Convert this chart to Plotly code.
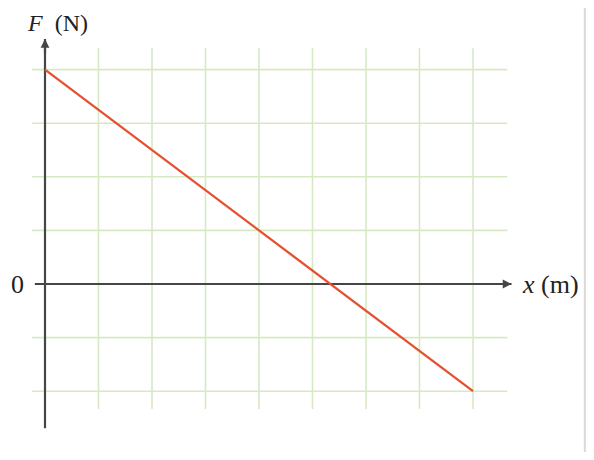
import plotly.graph_objects as go

# Grid positions (data units)
GRID_X = [1, 2, 3, 4, 5, 6, 7, 8]
GRID_Y = [4, 3, 2, 1, -1, -2]

# Force vs position line: endpoints
LINE_X = [0, 8]
LINE_F = [4, -2]

# Extents of the drawn grid / axes
GRID_X_SPAN = [-0.24, 8.64]
GRID_Y_SPAN = [-2.33, 4.40]
XAXIS_SPAN = [-0.19, 8.72]
YAXIS_SPAN = [-2.69, 4.57]

GRID_COLOR = "#d6e9c3"
AXIS_COLOR = "#454545"
LINE_COLOR = "#e5502e"
SERIF = "Liberation Serif, Times New Roman, serif"


def seg_xy(vals, span, vertical):
    xs, ys = [], []
    for v in vals:
        if vertical:
            xs += [v, v, None]
            ys += [span[0], span[1], None]
        else:
            xs += [span[0], span[1], None]
            ys += [v, v, None]
    return xs, ys


fig = go.Figure()

# grid
gx, gy = seg_xy(GRID_X, GRID_Y_SPAN, vertical=True)
fig.add_trace(go.Scatter(x=gx, y=gy, mode="lines",
                         line=dict(color=GRID_COLOR, width=1.6), hoverinfo="skip"))
hx, hy = seg_xy(GRID_Y, GRID_X_SPAN, vertical=False)
fig.add_trace(go.Scatter(x=hx, y=hy, mode="lines",
                         line=dict(color=GRID_COLOR, width=1.6), hoverinfo="skip"))

# axes
fig.add_trace(go.Scatter(x=XAXIS_SPAN, y=[0, 0], mode="lines",
                         line=dict(color=AXIS_COLOR, width=2.2), hoverinfo="skip"))
fig.add_trace(go.Scatter(x=[0, 0], y=YAXIS_SPAN, mode="lines",
                         line=dict(color=AXIS_COLOR, width=2.2), hoverinfo="skip"))

# force line
fig.add_trace(go.Scatter(x=LINE_X, y=LINE_F, mode="lines",
                         line=dict(color=LINE_COLOR, width=2.3)))

# arrowheads
fig.add_annotation(x=XAXIS_SPAN[1], y=0, ax=XAXIS_SPAN[1] - 0.3, ay=0,
                   xref="x", yref="y", axref="x", ayref="y", text="",
                   showarrow=True, arrowhead=2, arrowsize=0.8, arrowwidth=2.2,
                   arrowcolor=AXIS_COLOR)
fig.add_annotation(x=0, y=YAXIS_SPAN[1], ax=0, ay=YAXIS_SPAN[1] - 0.3,
                   xref="x", yref="y", axref="x", ayref="y", text="",
                   showarrow=True, arrowhead=2, arrowsize=0.8, arrowwidth=2.2,
                   arrowcolor=AXIS_COLOR)

# labels
fig.add_annotation(x=8.87, y=0, xref="x", yref="y",
                   text="<i>x</i> (m)", showarrow=False, xanchor="left",
                   font=dict(family=SERIF, size=26, color="#222"))
fig.add_annotation(x=-0.36, y=0, xref="x", yref="y", text="0",
                   showarrow=False, xanchor="right",
                   font=dict(family=SERIF, size=26, color="#222"))
fig.add_annotation(x=-0.38, y=1, xref="x", yref="paper", yanchor="top",
                   text="<i>F</i>  (N)", showarrow=False, xanchor="left",
                   font=dict(family=SERIF, size=24, color="#222"))

# right border of the page
fig.add_shape(type="line", xref="paper", yref="paper", x0=0.998, x1=0.998,
              y0=0, y1=1, line=dict(color="#d9d9d9", width=2))

fig.update_layout(
    width=578,
    height=444,
    margin=dict(l=0, r=0, t=0, b=0),
    plot_bgcolor="white",
    paper_bgcolor="white",
    showlegend=False,
    xaxis=dict(range=[-0.6916, 10.1121], visible=False, fixedrange=True),
    yaxis=dict(range=[-3.1343, 5.1493], visible=False, fixedrange=True),
)

fig.write_html("out.html")
